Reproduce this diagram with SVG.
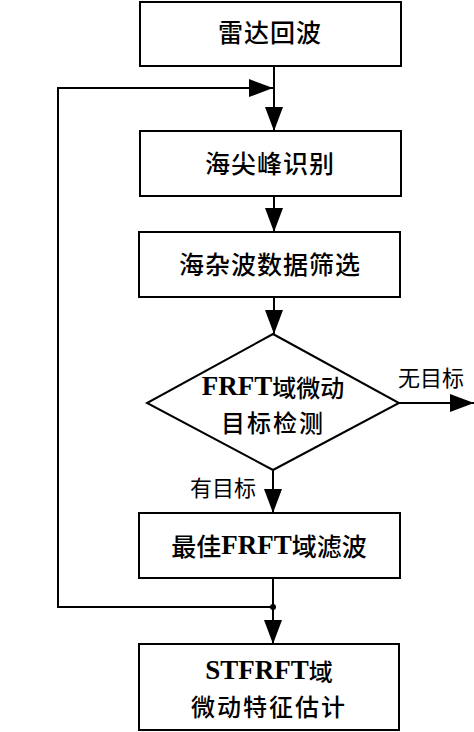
<svg xmlns="http://www.w3.org/2000/svg" width="474" height="732" viewBox="0 0 474 732">
<style>
.box{fill:#fff;stroke:#000;stroke-width:2}
.ln{fill:none;stroke:#000;stroke-width:2}
.t{font-family:"Noto Sans CJK SC",sans-serif;font-size:25px;font-weight:500;text-anchor:middle;dominant-baseline:central;fill:#000}
.t2{font-size:24px}
.b{font-family:"Liberation Serif",serif;font-weight:bold;font-size:27px}
.l{font-family:"Noto Sans CJK SC",sans-serif;font-size:22px;text-anchor:middle;dominant-baseline:central;fill:#000}
</style>
<defs>
<marker id="ah" markerUnits="userSpaceOnUse" markerWidth="24" markerHeight="18" viewBox="0 0 24 18" refX="24" refY="9" orient="auto">
<path d="M0,0 L24,9 L0,18 z" fill="#000"/>
</marker>
</defs>
<g id="connectors">
<path class="ln" d="M274,66 V131" marker-end="url(#ah)"/>
<path class="ln" d="M273,607 H58 V88 H273" marker-end="url(#ah)"/>
<path class="ln" d="M274,196 V232" marker-end="url(#ah)"/>
<path class="ln" d="M274,297 V334" marker-end="url(#ah)"/>
<path class="ln" d="M399,403 H474" marker-end="url(#ah)"/>
<path class="ln" d="M273,470 V513" marker-end="url(#ah)"/>
<path class="ln" d="M273,578 V644" marker-end="url(#ah)"/>
<circle cx="273" cy="607" r="3" fill="#000"/>
<text class="l" x="431" y="376">无目标</text>
<text class="l" x="223" y="486">有目标</text>
</g>
<g id="n1"><rect class="box" x="140" y="2" width="261" height="64"/><text class="t" x="270" y="31" letter-spacing="1">雷达回波</text></g>
<g id="n2"><rect class="box" x="140" y="131" width="261" height="65"/><text class="t" x="270" y="162" letter-spacing="1">海尖峰识别</text></g>
<g id="n3"><rect class="box" x="139" y="232" width="261" height="65"/><text class="t" x="270" y="263" letter-spacing="1">海杂波数据筛选</text></g>
<g id="n4"><path class="box" d="M273,334 L399,403 L273,470 L147,403 z"/><text class="t t2" x="273" y="386"><tspan class="b">FRFT</tspan>域微动</text><text class="t t2" x="273" y="421" letter-spacing="2">目标检测</text></g>
<g id="n5"><rect class="box" x="139" y="513" width="261" height="65"/><text class="t" x="269" y="545">最佳<tspan class="b">FRFT</tspan>域滤波</text></g>
<g id="n6"><rect class="box" x="139" y="644" width="260" height="86"/><text class="t t2" x="269" y="670"><tspan class="b">STFRFT</tspan>域</text><text class="t t2" x="269" y="705" letter-spacing="2">微动特征估计</text></g>
</svg>
